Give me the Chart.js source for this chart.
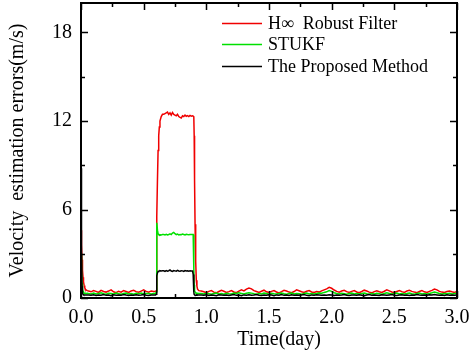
<!DOCTYPE html>
<html><head><meta charset="utf-8">
<script src="https://cdn.jsdelivr.net/npm/chart.js@4.4.0/dist/chart.umd.min.js"></script>
<style>html,body{margin:0;padding:0;background:#fff}</style>
</head><body>
<canvas id="c" width="474" height="354" style="width:474px;height:354px;display:block"></canvas>
<script>
// ---------------- data ----------------
const seriesNames = ['H\u221E  Robust Filter', 'STUKF', 'The Proposed Method'];
const seriesColors = ['#f00000', '#00e000', '#000000'];

const time = [
  // start transient
  0, 0.004, 0.008, 0.012, 0.016, 0.02, 0.025, 0.03, 0.035, 0.04, 0.05,
  // baseline before fault
  0.06, 0.08, 0.10, 0.12, 0.14, 0.16, 0.18, 0.20, 0.22, 0.24,
  0.26, 0.28, 0.30, 0.32, 0.34, 0.36, 0.38, 0.40, 0.42, 0.44,
  0.46, 0.48, 0.50, 0.52, 0.54, 0.56, 0.58, 0.595,
  // rise
  0.600, 0.603, 0.606, 0.61, 0.615, 0.62, 0.625, 0.63, 0.64, 0.65,
  // plateau
  0.66, 0.67, 0.68, 0.69, 0.70, 0.71, 0.72, 0.73, 0.74, 0.75,
  0.76, 0.77, 0.78, 0.79, 0.80, 0.81, 0.82, 0.83, 0.84, 0.85,
  0.86, 0.87, 0.88, 0.89,
  // fall
  0.895, 0.900, 0.903, 0.906, 0.91, 0.915, 0.92, 0.925, 0.93, 0.94,
  // baseline after fault
  0.96, 0.98, 1.00, 1.02, 1.04, 1.06, 1.08, 1.10, 1.12, 1.14,
  1.16, 1.18, 1.20, 1.22, 1.24, 1.26, 1.28, 1.30, 1.32, 1.34,
  1.36, 1.38, 1.40, 1.42, 1.44, 1.46, 1.48, 1.50, 1.52, 1.54,
  1.56, 1.58, 1.60, 1.62, 1.64, 1.66, 1.68, 1.70, 1.72, 1.74,
  1.76, 1.78, 1.80, 1.82, 1.84, 1.86, 1.88, 1.90, 1.92, 1.94,
  1.96, 1.98, 2.00, 2.02, 2.04, 2.06, 2.08, 2.10, 2.12, 2.14,
  2.16, 2.18, 2.20, 2.22, 2.24, 2.26, 2.28, 2.30, 2.32, 2.34,
  2.36, 2.38, 2.40, 2.42, 2.44, 2.46, 2.48, 2.50, 2.52, 2.54,
  2.56, 2.58, 2.60, 2.62, 2.64, 2.66, 2.68, 2.70, 2.72, 2.74,
  2.76, 2.78, 2.80, 2.82, 2.84, 2.86, 2.88, 2.90, 2.92, 2.94,
  2.96, 2.98, 3.00
];

const hinfRobust = [
  4.6, 3.6, 2.6, 1.9, 1.4, 1.1, 0.85, 0.7, 0.6, 0.55, 0.5,
  0.48, 0.42, 0.5, 0.45, 0.38, 0.52, 0.44, 0.4, 0.47, 0.55,
  0.42, 0.36, 0.46, 0.4, 0.5, 0.44, 0.38, 0.48, 0.52, 0.43,
  0.39, 0.47, 0.55, 0.45, 0.4, 0.48, 0.44, 0.45,
  0.5, 2.5, 5.5, 8.0, 10.0, 11.0, 11.6, 12.0, 12.3, 12.45,
  12.45, 12.5, 12.55, 12.6, 12.45, 12.55, 12.4, 12.58, 12.45, 12.4,
  12.35, 12.45, 12.3, 12.25, 12.2, 12.35, 12.3, 12.4, 12.32, 12.36,
  12.3, 12.38, 12.33, 12.35,
  12.33, 12.3, 11.0, 8.0, 5.0, 2.5, 1.2, 0.8, 0.6, 0.5,
  0.48, 0.42, 0.36, 0.45, 0.5, 0.4, 0.35, 0.44, 0.52, 0.46,
  0.38, 0.43, 0.5, 0.41, 0.36, 0.47, 0.55, 0.48, 0.6, 0.68,
  0.62, 0.5, 0.44, 0.38, 0.46, 0.53, 0.42, 0.37, 0.45, 0.5,
  0.41, 0.35, 0.43, 0.52, 0.47, 0.4, 0.36, 0.44, 0.55, 0.49,
  0.42, 0.38, 0.46, 0.5, 0.41, 0.37, 0.44, 0.4, 0.48, 0.55,
  0.62, 0.72, 0.66, 0.54, 0.45, 0.4, 0.47, 0.52, 0.43, 0.38,
  0.45, 0.5, 0.41, 0.36, 0.44, 0.53, 0.47, 0.4, 0.35, 0.43,
  0.49, 0.42, 0.38, 0.46, 0.55, 0.48, 0.41, 0.37, 0.44, 0.5,
  0.43, 0.38, 0.47, 0.52, 0.45, 0.4, 0.36, 0.44, 0.5, 0.42,
  0.38, 0.45, 0.52, 0.6, 0.55, 0.45, 0.4, 0.37, 0.44, 0.48,
  0.42, 0.38, 0.45
];

const stukf = [
  3.0, 1.8, 1.0, 0.6, 0.45, 0.38, 0.35, 0.33, 0.32, 0.3, 0.32,
  0.3, 0.28, 0.33, 0.27, 0.31, 0.35, 0.29, 0.26, 0.32, 0.3,
  0.27, 0.33, 0.29, 0.25, 0.31, 0.34, 0.28, 0.3, 0.26, 0.32,
  0.29, 0.33, 0.27, 0.3, 0.31, 0.28, 0.3, 0.3,
  0.4, 4.8, 5.1, 4.6, 4.35, 4.3, 4.25, 4.3, 4.28, 4.3,
  4.3, 4.28, 4.32, 4.27, 4.3, 4.35, 4.3, 4.4, 4.45, 4.36,
  4.3, 4.33, 4.28, 4.31, 4.29, 4.33, 4.3, 4.27, 4.32, 4.3,
  4.29, 4.31, 4.3, 4.3,
  4.3, 2.0, 0.9, 0.5, 0.4, 0.35, 0.33, 0.3, 0.32, 0.3,
  0.3, 0.27, 0.32, 0.29, 0.25, 0.31, 0.34, 0.28, 0.3, 0.26,
  0.32, 0.29, 0.27, 0.33, 0.3, 0.35, 0.31, 0.27, 0.32, 0.36,
  0.33, 0.29, 0.26, 0.31, 0.28, 0.33, 0.3, 0.26, 0.32, 0.29,
  0.27, 0.31, 0.34, 0.29, 0.26, 0.3, 0.33, 0.28, 0.31, 0.29,
  0.26, 0.3, 0.33, 0.28, 0.31, 0.27, 0.3, 0.34, 0.32, 0.38,
  0.42, 0.5, 0.45, 0.36, 0.31, 0.28, 0.32, 0.29, 0.26, 0.3,
  0.33, 0.28, 0.31, 0.27, 0.3, 0.34, 0.29, 0.26, 0.31, 0.28,
  0.32, 0.29, 0.26, 0.3, 0.35, 0.31, 0.27, 0.3, 0.33, 0.28,
  0.31, 0.27, 0.3, 0.34, 0.29, 0.26, 0.31, 0.33, 0.28, 0.3,
  0.27, 0.31, 0.35, 0.4, 0.36, 0.3, 0.27, 0.31, 0.29, 0.32,
  0.28, 0.3, 0.31
];

const proposed = [
  8.8, 3.2, 0.8, 0.3, 0.25, 0.22, 0.2, 0.2, 0.2, 0.2, 0.2,
  0.2, 0.18, 0.22, 0.17, 0.21, 0.19, 0.23, 0.18, 0.2, 0.16,
  0.22, 0.19, 0.21, 0.18, 0.24, 0.2, 0.17, 0.21, 0.19, 0.22,
  0.18, 0.2, 0.23, 0.19, 0.17, 0.21, 0.2, 0.2,
  0.25, 1.1, 1.5, 1.7, 1.8, 1.82, 1.83, 1.85, 1.83, 1.84,
  1.84, 1.8, 1.86, 1.82, 1.85, 1.9, 1.83, 1.8, 1.86, 1.84,
  1.82, 1.88, 1.83, 1.81, 1.85, 1.84, 1.8, 1.86, 1.83, 1.85,
  1.82, 1.84, 1.83, 1.83,
  1.6, 0.4, 0.25, 0.22, 0.2, 0.2, 0.19, 0.21, 0.2, 0.2,
  0.2, 0.18, 0.22, 0.17, 0.21, 0.19, 0.16, 0.22, 0.2, 0.18,
  0.21, 0.17, 0.2, 0.23, 0.18, 0.2, 0.16, 0.21, 0.19, 0.22,
  0.18, 0.2, 0.24, 0.19, 0.17, 0.21, 0.18, 0.22, 0.2, 0.16,
  0.21, 0.19, 0.23, 0.18, 0.2, 0.17, 0.22, 0.19, 0.21, 0.18,
  0.2, 0.23, 0.18, 0.16, 0.21, 0.19, 0.22, 0.2, 0.18, 0.21,
  0.19, 0.22, 0.2, 0.17, 0.21, 0.18, 0.2, 0.23, 0.19, 0.17,
  0.21, 0.2, 0.18, 0.22, 0.19, 0.16, 0.2, 0.23, 0.18, 0.21,
  0.19, 0.17, 0.22, 0.2, 0.18, 0.21, 0.24, 0.19, 0.17, 0.2,
  0.22, 0.18, 0.2, 0.17, 0.21, 0.19, 0.23, 0.2, 0.18, 0.21,
  0.19, 0.22, 0.2, 0.24, 0.21, 0.18, 0.2, 0.17, 0.22, 0.19,
  0.21, 0.18, 0.2
];

const xTickValues = [0, 0.5, 1.0, 1.5, 2.0, 2.5, 3.0];
const xTickLabels = ['0.0', '0.5', '1.0', '1.5', '2.0', '2.5', '3.0'];
const xMinorTicks = [0.25, 0.75, 1.25, 1.75, 2.25, 2.75];
const yTickValues = [0, 6, 12, 18];
const yTickLabels = ['0', '6', '12', '18'];
const yMinorTicks = [3, 9, 15];
const xTitle = 'Time(day)';
const yTitle = 'Velocity  estimation errors(m/s)';

// ---------------- chart ----------------
const FONT = "'Liberation Serif', 'Times New Roman', serif";
const toPoints = arr => arr.map((v, i) => ({ x: time[i], y: v }));
const allSeries = [hinfRobust, stukf, proposed];

const frameTicks = {
  id: 'frameTicks',
  afterDatasetsDraw(chart) {
    const { ctx, chartArea: a, scales: { x, y } } = chart;
    ctx.save();
    ctx.strokeStyle = '#000';
    ctx.lineWidth = 1.5;
    ctx.beginPath();
    const tick = (vals, len) => {
      vals.forEach(v => {
        const px = Math.round(x.getPixelForValue(v)) + 0.5;
        ctx.moveTo(px, a.bottom); ctx.lineTo(px, a.bottom - len);
        ctx.moveTo(px, a.top); ctx.lineTo(px, a.top + len);
      });
    };
    const ytick = (vals, len) => {
      vals.forEach(v => {
        const py = Math.round(y.getPixelForValue(v)) + 0.5;
        ctx.moveTo(a.left, py); ctx.lineTo(a.left + len, py);
        ctx.moveTo(a.right, py); ctx.lineTo(a.right - len, py);
      });
    };
    tick(xTickValues, 7); tick(xMinorTicks, 4);
    ytick(yTickValues, 7); ytick(yMinorTicks, 4);
    ctx.stroke();
    ctx.lineWidth = 2;
    ctx.strokeRect(a.left, a.top, a.right - a.left, a.bottom - a.top);
    ctx.restore();
  }
};

const innerLegend = {
  id: 'innerLegend',
  afterDraw(chart) {
    const { ctx } = chart;
    ctx.save();
    ctx.font = '18px ' + FONT;
    ctx.textBaseline = 'middle';
    ctx.textAlign = 'left';
    const rows = [23, 44, 66];
    chart.data.datasets.forEach((ds, i) => {
      const yy = rows[i];
      ctx.strokeStyle = ds.borderColor;
      ctx.lineWidth = 1.5;
      ctx.beginPath();
      ctx.moveTo(222, yy + 0.5); ctx.lineTo(262, yy + 0.5);
      ctx.stroke();
      ctx.fillStyle = '#000';
      ctx.fillText(ds.label, 268, yy + 1);
    });
    ctx.restore();
  }
};

new Chart(document.getElementById('c'), {
  type: 'line',
  data: {
    datasets: allSeries.map((s, i) => ({
      label: seriesNames[i],
      data: toPoints(s),
      borderColor: seriesColors[i],
      borderWidth: 1.5,
      pointRadius: 0,
      tension: 0,
      fill: false,
      order: 2 - i
    }))
  },
  options: {
    responsive: false,
    animation: false,
    events: [],
    layout: { padding: { top: 3, right: 17, left: 0, bottom: 0 } },
    plugins: { legend: { display: false }, tooltip: { enabled: false } },
    scales: {
      x: {
        type: 'linear', min: 0, max: 3,
        afterBuildTicks: s => { s.ticks = xTickValues.map(v => ({ value: v })); },
        afterFit: s => { s.height = 56; s.paddingLeft = 0; s.paddingRight = 0; },
        ticks: {
          autoSkip: false, maxRotation: 0, padding: 8, color: '#000',
          font: { family: FONT, size: 20 },
          callback: (v, i) => xTickLabels[i]
        },
        grid: { display: false, drawTicks: false },
        border: { display: false },
        title: { display: true, text: '    ' + xTitle, color: '#000',
                 font: { family: FONT, size: 20 }, padding: { top: 0, bottom: 2 } }
      },
      y: {
        type: 'linear', min: 0, max: 20,
        afterBuildTicks: s => { s.ticks = yTickValues.map(v => ({ value: v })); },
        afterFit: s => { s.width = 81; s.paddingTop = 0; s.paddingBottom = 0; },
        ticks: {
          autoSkip: false, padding: 9, color: '#000',
          font: { family: FONT, size: 20 },
          callback: (v, i) => yTickLabels[i]
        },
        grid: { display: false, drawTicks: false },
        border: { display: false },
        title: { display: true, text: yTitle, color: '#000',
                 font: { family: FONT, size: 20 }, padding: { top: 6, bottom: 0 } }
      }
    }
  },
  plugins: [frameTicks, innerLegend]
});
</script>
</body></html>
